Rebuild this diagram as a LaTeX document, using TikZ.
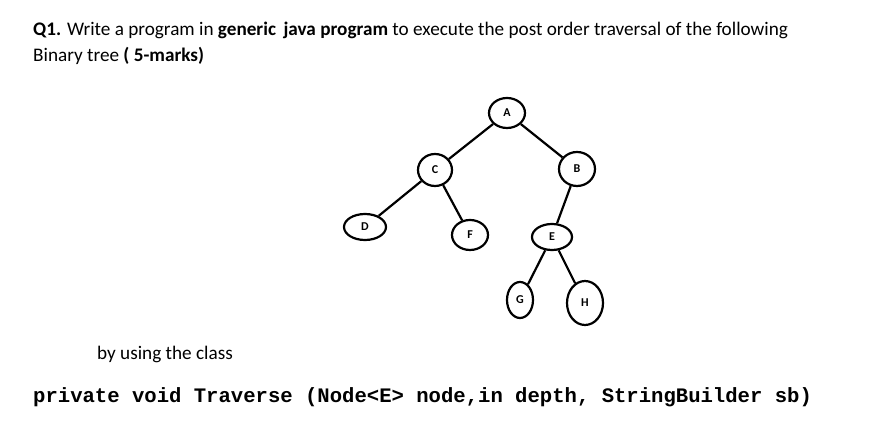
\documentclass[tikz,border=0pt]{standalone}
\usepackage{fontspec}
\setmainfont{Carlito}
\newfontfamily\codefont{Liberation Mono}
\usetikzlibrary{shapes.geometric}
\begin{document}
\begin{tikzpicture}[x=1pt,y=-1pt,
  tn/.style={draw,line width=2.2pt,ellipse,inner sep=0pt,font=\fontsize{12}{12}\selectfont\bfseries},
  ed/.style={line width=2.2pt},
  txt/.style={anchor=base west,inner sep=0pt}]
\useasboundingbox (0,0) rectangle (873,435);
\node[tn,minimum width=36,minimum height=30] (A) at (507,113) {A};
\node[tn,minimum width=34,minimum height=32] (C) at (435,170) {C};
\node[tn,minimum width=36,minimum height=34] (B) at (577,169) {B};
\node[tn,minimum width=42,minimum height=26] (D) at (365,227) {D};
\node[tn,minimum width=36,minimum height=30] (F) at (470,235) {F};
\node[tn,minimum width=40,minimum height=26] (E) at (552,237) {E};
\node[tn,minimum width=26,minimum height=36] (G) at (520,300) {G};
\node[tn,minimum width=36,minimum height=44] (H) at (585,303) {H};
\draw[ed] (A)--(C); \draw[ed] (A)--(B);
\draw[ed] (C)--(D); \draw[ed] (C)--(F);
\draw[ed] (B)--(E);
\draw[ed] (E)--(G); \draw[ed] (E)--(H);
\node[txt,font=\fontsize{19.2}{19.2}\selectfont] (t1) at (33,36) {\textbf{Q1.} Write a program in \textbf{generic\, java program} to execute the post order traversal of the following};
\node[txt,font=\fontsize{19.2}{19.2}\selectfont] (t2) at (33,62) {Binary tree \textbf{( 5-marks)}};
\node[txt,font=\fontsize{19.2}{19.2}\selectfont] (t3) at (97,360) {by using the class};
\node[txt,font=\fontsize{20.6}{20.6}\selectfont\codefont\bfseries] (t4) at (33,403) {private void Traverse (Node<E> node,in depth, StringBuilder sb)};
\end{tikzpicture}
\end{document}
